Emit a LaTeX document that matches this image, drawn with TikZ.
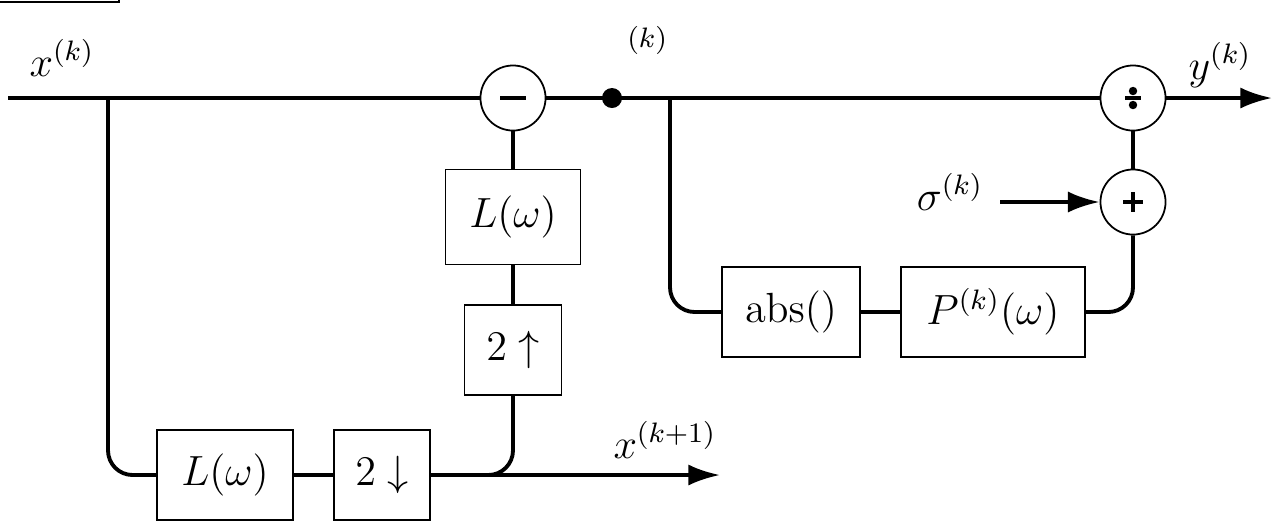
\documentclass[tikz,border=0pt]{standalone}
\usetikzlibrary{arrows.meta}
\begin{document}
\begin{tikzpicture}[x=0.01cm,y=-0.01cm,line width=1.1pt,
  every node/.style={font=\fontsize{11.5}{14}\selectfont},
  blk/.style={draw,line width=0.5pt,inner sep=0pt},
  op/.style={draw,circle,line width=0.5pt,minimum size=18.5pt,inner sep=0pt},
  arr/.style={-{Latex[length=9pt,width=6pt]}},
  rc/.style={rounded corners=7pt}]
\useasboundingbox (0,0) rectangle (1288,529);
\node[op] (m) at (513,98) {};
\draw[line width=1.2pt] (500,98) -- (526,98);
\node[op] (d) at (1133,98) {};
\draw[line width=1.2pt] (1125,98) -- (1141,98);
\fill (1133,91) circle (1.2pt) (1133,105) circle (1.2pt);
\node[op] (p) at (1133,202) {};
\draw[line width=1.2pt] (1123,202) -- (1143,202) (1133,192) -- (1133,212);
\fill (612,98) circle (10);
\coordinate (dot) at (612,98);
\node[blk,minimum width=135\pgflinewidth] at (0,0) {};
\node[blk,minimum width=38.4pt,minimum height=27pt] (L1) at (513,217) {$L(\omega)$};
\node[blk,minimum width=27.6pt,minimum height=25.6pt] (up) at (513,350) {$2\uparrow$};
\node[blk,minimum width=38.7pt,minimum height=25.6pt] (L2) at (225,475) {$L(\omega)$};
\node[blk,minimum width=27.3pt,minimum height=25.6pt] (dn) at (382,475) {$2\downarrow$};
\node[blk,minimum width=39.3pt,minimum height=25.6pt] (ab) at (791,312) {$\mathrm{abs}()$};
\node[blk,minimum width=52.3pt,minimum height=25.6pt] (P) at (993,312) {$P^{(k)}(\omega)$};
\coordinate (in) at (8,98);
\coordinate (out) at (1272,98);
\coordinate (o2) at (720,475);
\coordinate (s) at (1000,202);
\draw (in) -- (m);
\draw (m) -- (d);
\draw[arr] (d) -- (out);
\draw (d) -- (p);
\draw (m) -- (L1);
\draw (L1) -- (up);
\draw[rc] (108,98) -- (108,475) -- (L2);
\draw (L2) -- (dn);
\draw[arr,rc] (dn) -- (o2);
\draw[rc] (up) -- (513,475) -- (480,475);
\draw[rc] (670,98) -- (670,312) -- (ab);
\draw (ab) -- (P);
\draw[rc] (P) -- (1133,312) -- (p);
\draw[arr] (s) -- (p);
\node at (62,58) {$x^{(k)}$};
\node at (648,45) {$^{(k)}$};
\node at (1220,65) {$y^{(k)}$};
\node at (665,440) {$x^{(k+1)}$};
\node at (950,192) {$\sigma^{(k)}$};
\end{tikzpicture}
\end{document}
